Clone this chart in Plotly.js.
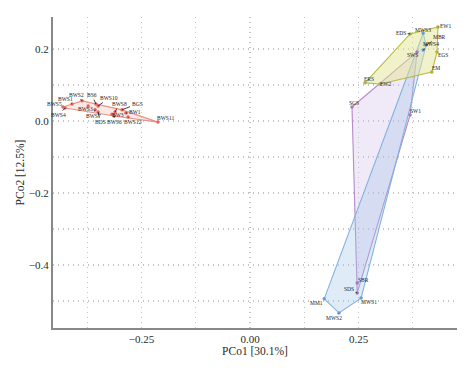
<!DOCTYPE html>
<html>
<head>
<meta charset="utf-8">
<script src="https://cdn.plot.ly/plotly-3.0.1.min.js"></script>
<style>html,body{margin:0;padding:0;background:#fff;}#chart{width:474px;height:372px;}</style>
</head>
<body>
<div id="chart"></div>
<script>
// Group B (red)
const bNames = ["BWS2","BWS1","BWS5","BWS4","BWS3","BS6","BWS10","BWS7","BDS","BWS8","BGS","BW3","BW1","BWS6","BWS12","BWS11"];
const bX = [-0.387,-0.410,-0.431,-0.426,-0.373,-0.355,-0.350,-0.357,-0.350,-0.311,-0.295,-0.318,-0.286,-0.313,-0.281,-0.212];
const bY = [0.056,0.047,0.039,0.036,0.042,0.047,0.042,0.031,0.025,0.025,0.031,0.019,0.022,0.014,0.011,-0.003];
// Group E (yellow-green)
const eNames = ["EDS","EW1","EGS","EM","ERS","EW2"];
const eX = [0.369,0.433,0.431,0.419,0.265,0.300];
const eY = [0.242,0.261,0.192,0.136,0.106,0.103];
// Group M (blue)
const mNames = ["MWS3","MBR","MWS4","MM1","MWS2","MWS1"];
const mX = [0.399,0.406,0.399,0.171,0.205,0.256];
const mY = [0.244,0.211,0.197,-0.494,-0.533,-0.492];
// Group S (purple)
const sNames = ["SWS","SGS","SW1","SBR","SDS"];
const sX = [0.385,0.235,0.369,0.247,0.247];
const sY = [0.192,0.039,0.017,-0.450,-0.478];

// label offsets (px) for repel-like labels
const bOff = [[-6,-6],[-7,-5],[-8,-3],[-7,7],[-3,3],[-4,-9],[11,-8],[-2,6],[2,10],[4,-8],[15,-6],[6,1],[9,-1],[0,6],[5,5],[7,-4]];
const eOff = [[-9,-1],[8,-1],[6,3],[4,-4],[4,-4],[6,0]];
const mOff = [[0,-3],[13,-8],[8,-6],[-8,4],[-5,5],[8,4]];
const sOff = [[-5,3],[2,-4],[5,-4],[6,-3],[-8,-4]];

const groups = [
  {n:sNames,x:sX,y:sY,off:sOff,line:'#b58ac9',fill:'rgba(210,188,230,0.33)',pt:'#a57bc0'},
  {n:mNames,x:mX,y:mY,off:mOff,line:'#82b2e0',fill:'rgba(160,195,235,0.33)',pt:'#6a9fd6'},
  {n:eNames,x:eX,y:eY,off:eOff,line:'#b9bb3c',fill:'rgba(228,228,150,0.5)',pt:'#9fb83a'},
  {n:bNames,x:bX,y:bY,off:bOff,line:'#ea9288',fill:'rgba(245,180,170,0.3)',pt:'#e2665c'}
];

function hull(xs, ys){
  const p = xs.map((x,i)=>[x,ys[i]]).sort((a,b)=>a[0]-b[0]||a[1]-b[1]);
  const cross=(o,a,b)=>(a[0]-o[0])*(b[1]-o[1])-(a[1]-o[1])*(b[0]-o[0]);
  const lo=[],up=[];
  for(const q of p){while(lo.length>=2&&cross(lo[lo.length-2],lo[lo.length-1],q)<=0)lo.pop();lo.push(q);}
  for(let i=p.length-1;i>=0;i--){const q=p[i];while(up.length>=2&&cross(up[up.length-2],up[up.length-1],q)<=0)up.pop();up.push(q);}
  up.pop();lo.pop();
  const h=lo.concat(up);h.push(h[0]);return h;
}

const traces=[];
const annotations=[];
groups.forEach(g=>{
  const h=hull(g.x,g.y);
  traces.push({type:'scatter',mode:'lines',x:h.map(p=>p[0]),y:h.map(p=>p[1]),fill:'toself',
    fillcolor:g.fill,line:{color:g.line,width:1.1},hoverinfo:'skip'});
});
groups.forEach(g=>{
  traces.push({type:'scatter',mode:'markers',x:g.x,y:g.y,text:g.n,
    marker:{color:g.pt,size:3.5}});
  g.n.forEach((nm,i)=>{
    annotations.push({x:g.x[i],y:g.y[i],xref:'x',yref:'y',text:nm,showarrow:true,
      ax:g.off[i][0],ay:g.off[i][1],arrowhead:0,arrowwidth:0.8,arrowcolor:'#111',standoff:0,
      font:{family:'Liberation Serif',size:5.5,color:'#222'}});
  });
});

const gridStyle={gridcolor:'#c4c4c4',griddash:'1px,4px',gridwidth:1.2};
const layout={
  width:474,height:372,
  margin:{l:53,r:17,t:17,b:44},
  paper_bgcolor:'#fff',plot_bgcolor:'#fff',
  showlegend:false,
  font:{family:'Liberation Serif',color:'#2a2a2a',size:11},
  xaxis:Object.assign({range:[-0.454,0.477],dtick:0.25,tick0:0,tickformat:'.2f',showline:true,linecolor:'#888',linewidth:2,
    zeroline:false,showgrid:true,ticks:'',
    minor:Object.assign({dtick:0.125,showgrid:true},gridStyle),
    title:{text:'PCo1 [30.1%]',font:{size:11.5,family:'Liberation Serif'},standoff:3},tickfont:{size:11}},gridStyle),
  yaxis:Object.assign({range:[-0.575,0.289],dtick:0.2,tick0:0,tickformat:'.1f',showline:true,linecolor:'#888',linewidth:2,
    zeroline:false,showgrid:true,ticks:'',
    minor:Object.assign({dtick:0.1,showgrid:true},gridStyle),
    title:{text:'PCo2 [12.5%]',font:{size:11.5,family:'Liberation Serif'},standoff:2},tickfont:{size:11}},gridStyle),
  annotations:annotations
};
Plotly.newPlot('chart',traces,layout,{displayModeBar:false,staticPlot:true});
</script>
</body>
</html>
